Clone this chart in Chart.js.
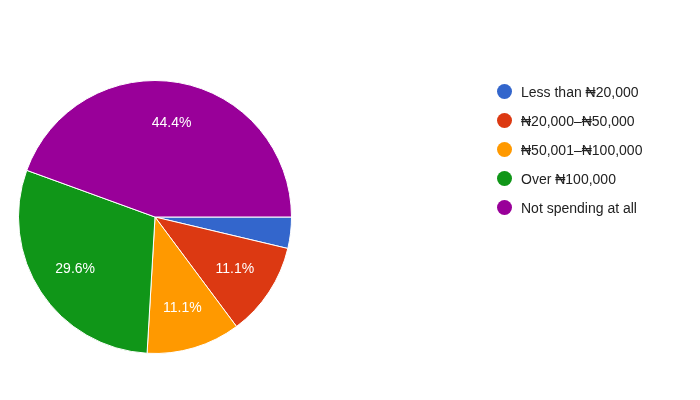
<!DOCTYPE html>
<html><head><meta charset="utf-8">
<script src="https://cdn.jsdelivr.net/npm/chart.js@4/dist/chart.umd.min.js"></script>
<style>
body{margin:0;background:#fff;font-family:"Liberation Sans",Arial,sans-serif;}
#wrap{position:relative;width:700px;height:400px;}
#legend{position:absolute;left:497px;top:77px;}
.it{display:flex;align-items:center;height:29px;font-size:14px;color:#222;}
.dot{width:15px;height:15px;border-radius:50%;margin-right:9px;}
</style></head><body>
<div id="wrap"><canvas id="c" width="700" height="400"></canvas><div id="legend"></div></div>
<script>
const categories=["Less than ₦20,000","₦20,000–₦50,000","₦50,001–₦100,000","Over ₦100,000","Not spending at all"];
const values=[1,3,3,8,12];
const colors=["#3366cc","#dc3912","#ff9900","#109618","#990099"];
const lg=document.getElementById('legend');
categories.forEach((c,i)=>{const d=document.createElement('div');d.className='it';d.innerHTML='<span class="dot" style="background:'+colors[i]+'"></span>';d.appendChild(document.createTextNode(c));lg.appendChild(d);});
const labelPlugin={id:'lbl',afterDatasetsDraw(ch){const ctx=ch.ctx;const meta=ch.getDatasetMeta(0);const tot=values.reduce((a,b)=>a+b,0);
ctx.save();ctx.fillStyle='#fff';ctx.font='14px "Liberation Sans",Arial';ctx.textAlign='center';ctx.textBaseline='middle';
meta.data.forEach((a,i)=>{const p=values[i]/tot;if(p<0.05)return;const ang=(a.startAngle+a.endAngle)/2;const r=a.outerRadius*0.7;
ctx.fillText((p*100).toFixed(1)+'%',a.x+Math.cos(ang)*r,a.y+Math.sin(ang)*r);});ctx.restore();}};
new Chart(document.getElementById('c'),{type:'pie',data:{labels:categories,datasets:[{data:values,backgroundColor:colors,borderColor:'#fff',borderWidth:1}]},
options:{responsive:false,animation:false,rotation:90,layout:{padding:{left:18,right:408,top:80,bottom:46}},plugins:{legend:{display:false},tooltip:{enabled:false}}},plugins:[labelPlugin]});
</script></body></html>
